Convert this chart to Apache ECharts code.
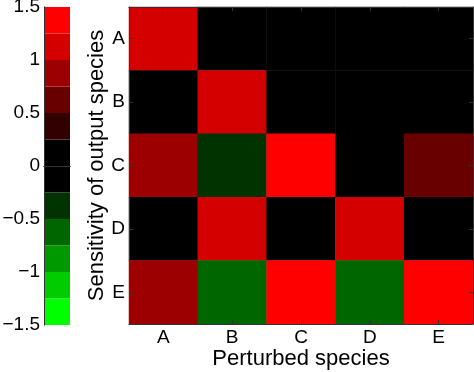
<!DOCTYPE html>
<html>
<head>
<meta charset="utf-8">
<script src="https://cdn.jsdelivr.net/npm/echarts@6/dist/echarts.min.js"></script>
<style>
html,body{margin:0;padding:0;background:#fff;}
#chart{width:474px;height:372px;}
</style>
</head>
<body>
<div id="chart"></div>
<script>
// Categories
const perturbed = ['A', 'B', 'C', 'D', 'E'];      // x axis
const outputs = ['A', 'B', 'C', 'D', 'E'];        // y axis (top to bottom)

// Sensitivity values, one array per output species (columns = perturbed A..E)
const rowA = [1.1, 0, 0, 0, 0];
const rowB = [0, 1.1, 0, 0, 0];
const rowC = [0.9, -0.4, 1.4, 0, 0.6];
const rowD = [0, 1.1, 0, 1.1, 0];
const rowE = [0.9, -0.6, 1.4, -0.6, 1.4];
const rows = [rowA, rowB, rowC, rowD, rowE];

// Colour bar bins (lower edges) and colours
const binLow = [-1.5, -1.25, -1.0, -0.75, -0.5, -0.25, 0, 0.25, 0.5, 0.75, 1.0, 1.25];
const binWidth = 0.25;
const binColors = ['#00ff00', '#00cc00', '#009a00', '#006600', '#003300', '#000000',
                   '#000000', '#330000', '#680000', '#9c0000', '#d40000', '#ff0000'];
const cbTicks = [-1.5, -1, -0.5, 0, 0.5, 1, 1.5];

const heatData = [];
rows.forEach((r, yi) => r.forEach((v, xi) => heatData.push([xi, yi, v])));
const cbData = binLow.map((lo, i) => [lo, lo + binWidth, i]);

const font = "'Liberation Sans', Arial, sans-serif";
const fmt = v => (v < 0 ? '\u2212' + Math.abs(v) : String(v));
const lineStyle = {color: '#333', width: 1};

const chart = echarts.init(document.getElementById('chart'), null, {renderer: 'canvas'});
chart.setOption({
  animation: false,
  backgroundColor: '#fff',
  textStyle: {fontFamily: font},
  grid: [
    {left: 129, top: 7, width: 344, height: 317, outerBoundsMode: 'none', containLabel: false},
    {left: 44, top: 7, width: 26, height: 318, outerBoundsMode: 'none', containLabel: false}
  ],
  xAxis: [
    {
      gridIndex: 0, type: 'category', data: perturbed, position: 'bottom',
      name: 'Perturbed species', nameLocation: 'middle', nameGap: 24, nameMoveOverlap: false,
      nameTextStyle: {fontSize: 22, color: '#000', fontFamily: font},
      axisLine: {show: true, lineStyle: lineStyle},
      axisTick: {show: true, inside: true, alignWithLabel: true, length: 4, lineStyle: lineStyle},
      axisLabel: {fontSize: 19, color: '#000', margin: 4, fontFamily: font},
      splitLine: {show: false}, z: 10
    },
    {
      gridIndex: 0, type: 'category', data: perturbed, position: 'top',
      axisLine: {show: true, lineStyle: lineStyle},
      axisTick: {show: true, inside: true, alignWithLabel: true, length: 4, lineStyle: lineStyle},
      axisLabel: {show: false}, splitLine: {show: false}, z: 10
    },
    {
      gridIndex: 1, type: 'value', min: 0, max: 1, position: 'bottom',
      axisLine: {show: true, lineStyle: lineStyle}, axisTick: {show: false},
      axisLabel: {show: false}, splitLine: {show: false}, z: 10
    },
    {
      gridIndex: 1, type: 'value', min: 0, max: 1, position: 'top',
      axisLine: {show: true, lineStyle: lineStyle}, axisTick: {show: false},
      axisLabel: {show: false}, splitLine: {show: false}, z: 10
    }
  ],
  yAxis: [
    {
      gridIndex: 0, type: 'category', data: outputs, inverse: true, position: 'left',
      name: 'Sensitivity of output species', nameLocation: 'middle', nameGap: 21, nameRotate: 90,
      nameMoveOverlap: false,
      nameTextStyle: {fontSize: 22, color: '#000', fontFamily: font},
      axisLine: {show: true, lineStyle: lineStyle},
      axisTick: {show: true, inside: true, alignWithLabel: true, length: 4, lineStyle: lineStyle},
      axisLabel: {fontSize: 19, color: '#000', margin: 4, fontFamily: font},
      splitLine: {show: false}, z: 10
    },
    {
      gridIndex: 0, type: 'category', data: outputs, inverse: true, position: 'right',
      axisLine: {show: true, lineStyle: lineStyle},
      axisTick: {show: true, inside: true, alignWithLabel: true, length: 4, lineStyle: lineStyle},
      axisLabel: {show: false}, splitLine: {show: false}, z: 10
    },
    {
      gridIndex: 1, type: 'value', min: -1.5, max: 1.5, interval: 0.5, position: 'left',
      axisLine: {show: true, lineStyle: lineStyle},
      axisTick: {show: false},
      axisLabel: {fontSize: 19, color: '#000', margin: 4, fontFamily: font, formatter: fmt},
      splitLine: {show: false}, z: 10
    },
    {
      gridIndex: 1, type: 'value', min: -1.5, max: 1.5, interval: 0.5, position: 'right',
      axisLine: {show: true, lineStyle: lineStyle},
      axisTick: {show: false}, axisLabel: {show: false},
      splitLine: {show: false}, z: 10
    }
  ],
  visualMap: {
    show: false, type: 'piecewise', seriesIndex: 0, dimension: 2,
    pieces: binLow.map((lo, i) => ({gte: lo, lt: lo + binWidth, color: binColors[i]}))
  },
  series: [
    {
      type: 'heatmap', xAxisIndex: 0, yAxisIndex: 0, data: heatData,
      itemStyle: {borderWidth: 0}, emphasis: {disabled: true}
    },
    {
      type: 'custom', xAxisIndex: 2, yAxisIndex: 2, data: cbData,
      renderItem: function (params, api) {
        const lo = api.value(0), hi = api.value(1), idx = api.value(2);
        const p1 = api.coord([0, hi]);
        const p2 = api.coord([1, lo]);
        return {
          type: 'rect',
          shape: {x: p1[0], y: p1[1], width: p2[0] - p1[0], height: p2[1] - p1[1]},
          style: {fill: binColors[idx]}
        };
      }
    }
  ]
});
</script>
</body>
</html>
